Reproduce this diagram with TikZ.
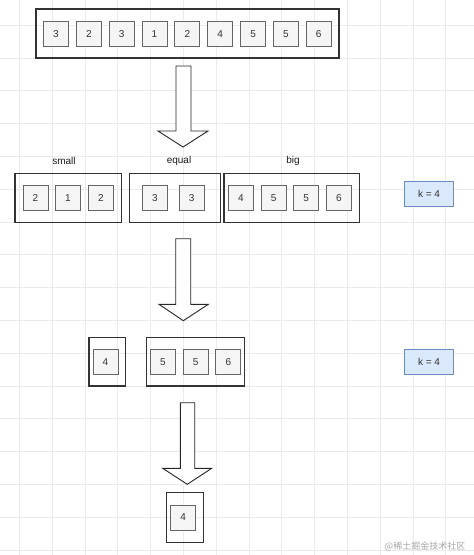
\documentclass[tikz,border=0pt]{standalone}
\usepackage{fontspec}
\setmainfont{Liberation Sans}
\newfontfamily\cjk{Noto Sans CJK SC}
\definecolor{cellfill}{HTML}{F5F5F5}
\definecolor{celldraw}{HTML}{666666}
\definecolor{kfill}{HTML}{DAE8FC}
\definecolor{kdraw}{HTML}{6C8EBF}
\definecolor{gridcol}{HTML}{EBEBEB}
\definecolor{txt}{HTML}{333333}
\begin{document}
\begin{tikzpicture}[x=1pt,y=-1pt]
        \tikzstyle{cell}=[draw=celldraw,fill=cellfill,text=txt,line width=0.9pt,minimum size=25pt,inner sep=0pt,font=\fontsize{10}{12}\selectfont]
        \tikzstyle{group}=[draw=black!80,line width=1.2pt,inner sep=0pt]
        \tikzstyle{kbox}=[draw=kdraw,fill=kfill,text=txt,line width=0.9pt,minimum width=49pt,minimum height=25pt,inner sep=0pt,font=\fontsize{10}{12}\selectfont]
        \tikzstyle{label}=[text=black!90,font=\fontsize{10}{12}\selectfont]
        \tikzstyle{bigarrow}=[draw=black!85,fill=white,line width=0.9pt,line join=miter]
        \useasboundingbox (0,0) rectangle (474,555);
        % background grid
        \foreach \i in {0,...,13}
          \draw[gridcol,line width=0.6pt] ({19.3+32.8*\i},0) -- ++(0,555);
        \foreach \j in {0,...,16}
          \draw[gridcol,line width=0.6pt] (0,{25+32.8*\j}) -- ++(474,0);
       \begin{scope}
         % input array
         \node [group,minimum width=303pt,minimum height=49pt] (all) at (187.5,33.5) {};
         \foreach \v [count=\k from 0] in {3,2,3,1,2,4,5,5,6}
           \node [cell] (a\k) at ({56+32.84*\k},34) {\v};
         \draw[bigarrow] (176,66) -- (191,66) -- (191,131) -- (208,131) -- (183,147)
            -- (158,131) -- (176,131) -- cycle;
         % partition
         \node [label] (lsmall) at (64,160.7) {small};
         \node [label] (lequal) at (179,160.7) {equal};
         \node [label] (lbig) at (293,160.7) {big};
         \node [group,minimum width=106.7pt,minimum height=49pt] (small) at (68.35,197.8) {};
         \node [group,minimum width=90.6pt,minimum height=49pt] (equal) at (175,197.8) {};
         \node [group,minimum width=135.3pt,minimum height=49pt] (big) at (291.65,197.8) {};
         \node [cell] (s1) at (35.5,197.7) {2};
         \node [cell] (s2) at (68,197.7) {1};
         \node [cell] (s3) at (101,197.7) {2};
         \node [cell] (e1) at (155,197.7) {3};
         \node [cell] (e2) at (191.7,197.7) {3};
         \foreach \v [count=\k from 0] in {4,5,5,6}
           \node [cell] (b\k) at ({241+32.6*\k},197.7) {\v};
         \node [kbox] (k1) at (429,193.8) {k = 4};
         \draw[bigarrow] (175.7,238.7) -- (190.7,238.7) -- (190.7,304.3) -- (208.3,304.3)
            -- (183.3,320.7) -- (159,304.3) -- (175.7,304.3) -- cycle;
         % second step
         \node [group,minimum width=36.7pt,minimum height=48.7pt] (left) at (107.35,361.65) {};
         \node [cell] (c1) at (105.5,361.7) {4};
         \node [group,minimum width=98.4pt,minimum height=48.7pt] (right) at (195.5,361.65) {};
         \foreach \v [count=\k from 0] in {5,5,6}
           \node [cell] (r\k) at ({163+32.65*\k},361.7) {\v};
         \node [kbox] (k2) at (429,361.8) {k = 4};
         \draw[bigarrow] (180.3,402.7) -- (194.7,402.7) -- (194.7,468.3) -- (211.7,468.3)
            -- (187.3,484.3) -- (162.7,468.3) -- (180.3,468.3) -- cycle;
         % result
         \node [group,minimum width=37pt,minimum height=49.6pt] (res) at (185.2,517.5) {};
         \node [cell] (f1) at (183.2,517.5) {4};
         \node [text=black!35,font=\cjk\fontsize{9}{11}\selectfont] (wm) at (425,546) {@稀土掘金技术社区};
        \end{scope}
      \end{tikzpicture}
\end{document}
